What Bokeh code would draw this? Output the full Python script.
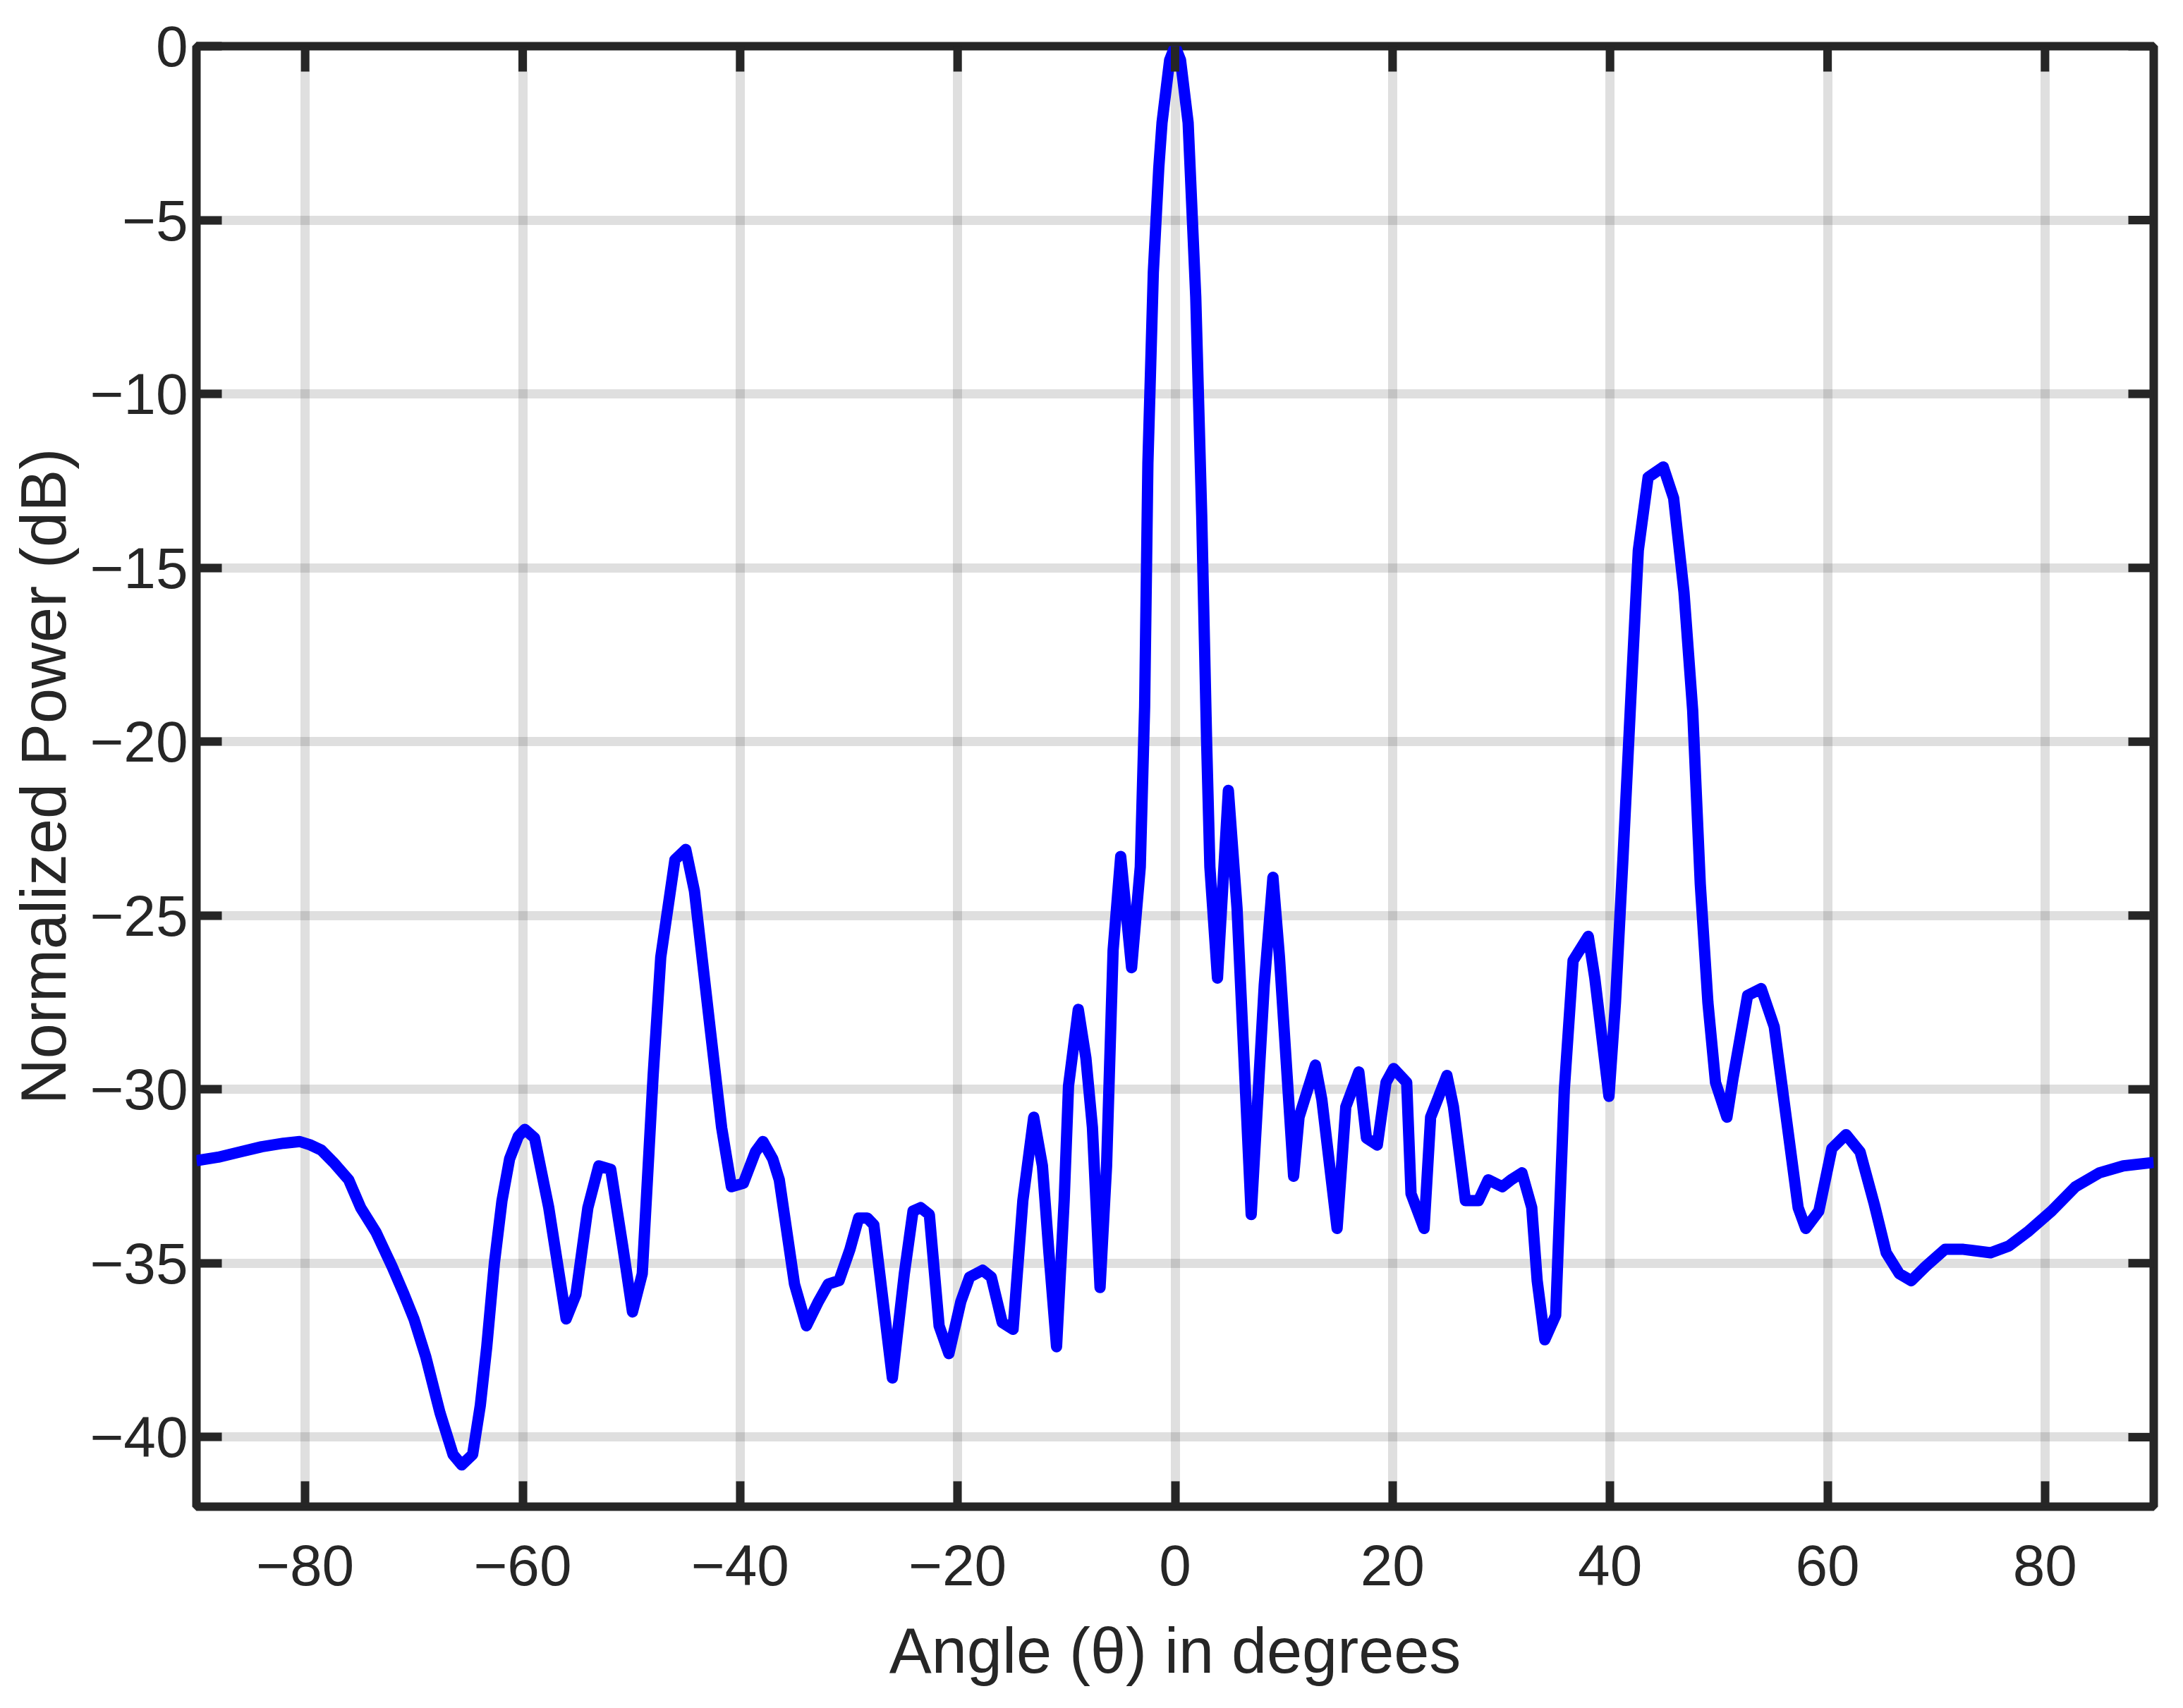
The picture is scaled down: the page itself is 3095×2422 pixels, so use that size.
from bokeh.plotting import figure
from bokeh.models import FixedTicker, ColumnDataSource
from bokeh.embed import file_html
from bokeh.resources import INLINE

# ---- data ----
angle_deg = [
    -90, -88, -86, -84, -82, -80.5, -79.5, -78.5, -77.4, -76.0, -74.9, -73.5,
    -72.0, -70.9, -70.0, -68.9, -67.6, -66.4, -65.6, -64.6, -63.9, -63.3, -62.6,
    -61.9, -61.2, -60.4, -59.8, -58.9, -57.6, -56.0, -55.1, -54.0, -53.0, -51.9,
    -50.8, -49.9, -49.0, -48.0, -47.3, -46.0, -45.0, -44.2, -42.7, -41.7, -40.8,
    -39.7, -38.6, -37.9, -37.0, -36.4, -35.0, -33.9, -32.8, -31.9, -30.9, -29.9,
    -29.1, -28.3, -27.7, -26.0, -24.9, -24.1, -23.4, -22.6, -21.7, -20.8, -19.7,
    -18.9, -17.7, -16.9, -15.9, -14.9, -14.0, -13.0, -12.2, -11.6, -10.9, -10.2,
    -9.8, -8.9, -8.2, -7.6, -6.9, -6.3, -5.7, -5.0, -4.0, -3.2, -2.8, -2.5, -2.0,
    -1.5, -1.2, -0.5, 0.0, 0.5, 1.2, 1.9, 2.45, 2.9, 3.2, 3.9, 4.9, 5.7, 7.0, 8.2,
    9.0, 9.6, 10.9, 11.4, 12.9, 13.5, 14.9, 15.7, 16.9, 17.6, 18.6, 19.4, 20.1,
    21.3, 21.7, 22.9, 23.5, 25.0, 25.6, 26.7, 27.9, 28.8, 30.1, 30.9, 31.9, 32.8,
    33.3, 34.0, 35.0, 35.3, 35.8, 36.6, 38.0, 38.6, 39.9, 40.5, 41.2, 42.0, 42.6,
    43.5, 44.9, 45.85, 46.8, 47.6, 48.3, 49.0, 49.7, 50.75, 51.3, 52.65, 53.9,
    55.1, 56.2, 57.3, 58.0, 59.2, 60.4, 61.7, 63.0, 64.3, 65.4, 66.6, 67.7, 69.0,
    70.8, 72.5, 75.0, 76.7, 78.4, 80.6, 82.8, 85.0, 87.2, 90,
]
power_db = [
    -32.05, -31.95, -31.8, -31.65, -31.55, -31.5, -31.6, -31.75, -32.1, -32.6,
    -33.4, -34.1, -35.1, -35.9, -36.6, -37.7, -39.3, -40.5, -40.8, -40.5, -39.1,
    -37.4, -35.0, -33.2, -32.0, -31.35, -31.15, -31.4, -33.4, -36.6, -35.9, -33.4,
    -32.2, -32.3, -34.5, -36.4, -35.3, -29.6, -26.2, -23.4, -23.1, -24.3, -28.4,
    -31.1, -32.8, -32.7, -31.8, -31.5, -32.0, -32.6, -35.6, -36.8, -36.1, -35.6,
    -35.5, -34.6, -33.7, -33.7, -33.9, -38.3, -35.3, -33.5, -33.4, -33.6, -36.8,
    -37.6, -36.1, -35.4, -35.2, -35.4, -36.7, -36.9, -33.2, -30.8, -32.2, -34.7,
    -37.4, -33.2, -29.9, -27.7, -29.1, -31.1, -35.7, -32.2, -26.0, -23.3, -26.5,
    -23.6, -19.0, -12.0, -6.5, -3.5, -2.2, -0.4, 0.0, -0.4, -2.2, -7.2, -13.5,
    -20.0, -23.6, -26.8, -21.4, -24.8, -33.6, -27.0, -23.9, -26.2, -32.5, -30.8,
    -29.3, -30.3, -34.0, -30.5, -29.5, -31.4, -31.6, -29.8, -29.4, -29.8, -33.0,
    -34.0, -30.8, -29.6, -30.5, -33.2, -33.2, -32.6, -32.8, -32.6, -32.4, -33.4,
    -35.5, -37.2, -36.5, -34.0, -30.0, -26.3, -25.6, -26.8, -30.2, -27.5, -23.3,
    -18.2, -14.5, -12.4, -12.1, -13.0, -15.7, -19.1, -24.1, -27.5, -29.8, -30.8,
    -29.7, -27.3, -27.1, -28.2, -30.8, -33.4, -34.0, -33.5, -31.7, -31.3, -31.8,
    -33.3, -34.7, -35.3, -35.5, -35.1, -34.6, -34.6, -34.7, -34.5, -34.1, -33.5,
    -32.8, -32.4, -32.2, -32.1,
]
x_limits = (-90, 90)
y_limits = (-42, 0)
x_ticks = [-80, -60, -40, -20, 0, 20, 40, 60, 80]
x_tick_labels = ["\u221280", "\u221260", "\u221240", "\u221220", "0", "20", "40", "60", "80"]
y_ticks = [0, -5, -10, -15, -20, -25, -30, -35, -40]
y_tick_labels = ["0", "\u22125", "\u221210", "\u221215", "\u221220", "\u221225", "\u221230", "\u221235", "\u221240"]
x_label = "Angle (\u03b8) in degrees"
y_label = "Normalized Power (dB)"

FONT = "Liberation Sans"
DARK = "#262626"
TICK_LEN = 36
TICK_W = 12

source = ColumnDataSource(data=dict(angle=angle_deg, power=power_db))

p = figure(
    frame_width=2775, frame_height=2071,
    x_range=x_limits, y_range=y_limits,
    output_backend="svg", toolbar_location=None,
    min_border_left=278, min_border_right=26,
    min_border_top=65, min_border_bottom=270,
    background_fill_color="white", border_fill_color="white",
)

for g, t in ((p.xgrid, x_ticks), (p.ygrid, y_ticks)):
    g.ticker = FixedTicker(ticks=t)
    g.grid_line_color = DARK
    g.grid_line_alpha = 0.15
    g.grid_line_width = 13

p.line("angle", "power", source=source, line_color="#0000ff", line_width=16,
       line_join="round")

# inward tick marks on the top and right edges (box on); half of each mark is
# clipped by the frame, leaving TICK_LEN pixels inside
p.rect(x=x_ticks, y=[y_limits[1]] * len(x_ticks), width=TICK_W, height=2 * TICK_LEN,
       width_units="screen", height_units="screen", fill_color=DARK, line_color=None)
p.rect(x=[x_limits[1]] * len(y_ticks), y=y_ticks, width=2 * TICK_LEN, height=TICK_W,
       width_units="screen", height_units="screen", fill_color=DARK, line_color=None)

p.outline_line_color = DARK
p.outline_line_width = 12
p.outline_line_alpha = 1.0


def style_axis(ax, ticks, labels):
    ax.ticker = FixedTicker(ticks=ticks)
    ax.axis_line_color = None
    ax.major_tick_in = TICK_LEN
    ax.major_tick_out = 0
    ax.major_tick_line_width = TICK_W
    ax.major_tick_line_color = DARK
    ax.minor_tick_line_color = None
    ax.major_label_overrides = dict(zip(ticks, labels))
    ax.major_label_text_font = FONT
    ax.major_label_text_font_size = "82px"
    ax.major_label_text_color = DARK
    ax.axis_label_text_font = FONT
    ax.axis_label_text_font_size = "90px"
    ax.axis_label_text_font_style = "normal"
    ax.axis_label_text_color = DARK


xa = p.xaxis[0]
ya = p.yaxis[0]
style_axis(xa, x_ticks, x_tick_labels)
style_axis(ya, y_ticks, y_tick_labels)
xa.axis_label = x_label
ya.axis_label = y_label
xa.major_label_standoff = 54
xa.axis_label_standoff = 40
ya.major_label_standoff = 12
ya.axis_label_standoff = 12

open("out.html", "w").write(file_html(p, INLINE))
